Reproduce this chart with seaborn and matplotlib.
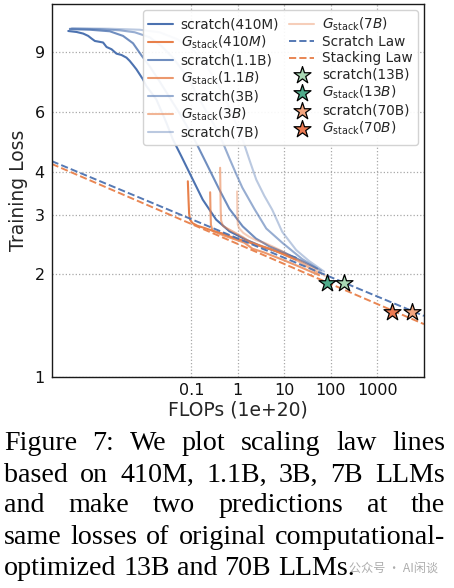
import numpy as np
import pandas as pd
import matplotlib
matplotlib.use("Agg")
import matplotlib.pyplot as plt
import seaborn as sns
from matplotlib.ticker import NullLocator, NullFormatter, FixedLocator, FixedFormatter

# ---------------- data (FLOPs in units of 1e20, training loss) ----------------
scratch_410M_flops = [2.27e-4, 3.43e-4, 4.75e-4, 6.08e-4, 7.19e-4, 8.46e-4, 1.08e-3, 1.27e-3, 1.51e-3,
                      1.93e-3, 2.46e-3, 3.15e-3, 4.04e-3, 4.75e-3, 5.59e-3, 6.61e-3, 7.78e-3, 9.15e-3,
                      1.08e-2, 1.77e-2, 2.90e-2, 4.02e-2, 6.08e-2, 9.15e-2, 0.176, 0.341, 0.658, 1.50,
                      3.40, 9.11, 17.6]
scratch_410M_loss = [10.41, 10.34, 10.23, 10.07, 9.89, 9.73, 9.67, 9.63, 9.34, 9.20, 8.93, 8.85, 8.69,
                     8.50, 8.27, 8.03, 7.76, 7.50, 7.17, 6.55, 5.60, 4.99, 4.46, 3.98, 3.32, 2.90, 2.68,
                     2.53, 2.41, 2.31, 2.24]

scratch_1_1B_flops = [2.46e-4, 6.61e-4, 1.77e-3, 3.41e-3, 5.59e-3, 8.46e-3, 1.27e-2, 2.08e-2, 3.41e-2,
                      5.59e-2, 8.29e-2, 0.117, 0.208, 0.402, 0.658, 1.27, 2.45, 4.73, 9.90, 20.7, 50.4]
scratch_1_1B_loss = [10.54, 10.50, 10.39, 10.07, 9.58, 8.83, 8.20, 7.40, 6.64, 5.96, 5.42, 4.99, 4.26,
                     3.55, 3.12, 2.77, 2.55, 2.42, 2.32, 2.21, 2.08]

scratch_3B_flops = [2.46e-4, 1.08e-3, 2.90e-3, 6.08e-3, 1.27e-2, 2.30e-2, 3.96e-2, 6.48e-2, 0.101, 0.150,
                    0.222, 0.330, 0.466, 0.674, 0.929, 1.25, 2.26, 4.08, 8.97, 24.1, 61.4]
scratch_3B_loss = [10.57, 10.54, 10.46, 10.32, 9.98, 9.39, 8.71, 7.97, 7.25, 6.55, 5.96, 5.42, 4.92,
                   4.36, 3.94, 3.60, 3.12, 2.73, 2.48, 2.22, 2.05]

scratch_7B_flops = [2.72e-4, 1.77e-3, 7.78e-3, 2.08e-2, 5.06e-2, 0.117, 0.222, 0.364, 0.567, 0.841,
                    1.31, 1.76, 2.49, 3.69, 5.48, 8.97, 17.9, 34.0, 71.2]
scratch_7B_loss = [10.61, 10.57, 10.50, 10.32, 9.84, 9.08, 8.14, 7.30, 6.46, 5.72, 4.92, 4.36, 3.80,
                   3.41, 3.10, 2.67, 2.36, 2.19, 2.04]

gstack_410M_flops = [8.42e-2, 8.71e-2, 8.97e-2, 9.38e-2, 0.106, 0.136, 0.192, 0.284, 0.466, 0.762, 1.38,
                     2.89, 5.22, 8.97, 17.6]
gstack_410M_loss = [3.76, 3.32, 3.02, 2.90, 2.83, 2.78, 2.74, 2.69, 2.64, 2.57, 2.51, 2.43, 2.37, 2.30, 2.21]

gstack_1_1B_flops = [0.254, 0.258, 0.264, 0.284, 0.364, 0.514, 0.774, 1.38, 2.07, 3.69, 9.11, 20.7, 55.6]
gstack_1_1B_loss = [3.49, 3.10, 2.80, 2.69, 2.65, 2.60, 2.55, 2.48, 2.38, 2.32, 2.21, 2.11, 1.99]

gstack_3B_flops = [0.416, 0.422, 0.428, 0.437, 0.477, 0.567, 0.726, 0.929, 1.31, 1.76, 2.62, 4.08, 6.35,
                   9.11, 17.6, 28.9, 55.6]
gstack_3B_loss = [4.12, 3.55, 3.10, 2.88, 2.78, 2.74, 2.69, 2.64, 2.57, 2.50, 2.45, 2.40, 2.35, 2.30,
                  2.21, 2.12, 2.01]

gstack_7B_flops = [0.961, 0.971, 0.980, 1.0, 1.077, 1.31, 1.76, 2.49, 3.69, 5.48, 8.54, 14.0, 25.3, 43.5, 74.8]
gstack_7B_loss = [3.51, 3.21, 2.94, 2.80, 2.73, 2.65, 2.58, 2.52, 2.48, 2.42, 2.35, 2.25, 2.17, 2.08, 1.98]

law_flops = [1e-4, 1e4]
scratch_law_loss = [4.31, 1.51]
stacking_law_loss = [4.23, 1.428]

star_labels = ["scratch(13B)", r"$G_{\mathrm{stack}}(13B)$", "scratch(70B)", r"$G_{\mathrm{stack}}(70B)$"]
star_flops = [190.5, 83.8, 5530, 2065]
star_loss = [1.887, 1.887, 1.555, 1.555]
star_colors = ["#a9d8b4", "#4fab8b", "#f2a57f", "#ec7a52"]

x_ticks = [0.1, 1, 10, 100, 1000]
x_ticklabels = ["0.1", "1", "10", "100", "1000"]
y_ticks = [1, 2, 3, 4, 6, 9]
y_ticklabels = ["1", "2", "3", "4", "6", "9"]

caption_lines = [
    "Figure 7:  We plot scaling law lines",
    "based on 410M, 1.1B, 3B, 7B LLMs",
    "and make two predictions at the",
    "same losses of original computational-",
    "optimized 13B and 70B LLMs.",
]

# ---------------- style ----------------
sns.set_style("whitegrid", {"grid.linestyle": ":", "grid.color": "#a8a8a8",
                            "axes.edgecolor": "#1a1a1a", "axes.linewidth": 1.0})
plt.rcParams["font.family"] = ["DejaVu Sans"]
plt.rcParams["mathtext.fontset"] = "dejavusans"

W, H = 454, 588
fig = plt.figure(figsize=(W / 100, H / 100), dpi=100)
ax = fig.add_axes([51.7 / W, 1 - 376.7 / H, (424 - 51.7) / W, (376.7 - 4) / H])
ax.set_xscale("log")
ax.set_yscale("log")

blue = "#4c72b0"
orange = "#e8804a"
alphas = [1.0, 0.8, 0.58, 0.38]

series = [
    (scratch_410M_flops, scratch_410M_loss, blue, alphas[0], "scratch(410M)"),
    (gstack_410M_flops, gstack_410M_loss, orange, alphas[0], r"$G_{\mathrm{stack}}(410M)$"),
    (scratch_1_1B_flops, scratch_1_1B_loss, blue, alphas[1], "scratch(1.1B)"),
    (gstack_1_1B_flops, gstack_1_1B_loss, orange, alphas[1], r"$G_{\mathrm{stack}}(1.1B)$"),
    (scratch_3B_flops, scratch_3B_loss, blue, alphas[2], "scratch(3B)"),
    (gstack_3B_flops, gstack_3B_loss, orange, alphas[2], r"$G_{\mathrm{stack}}(3B)$"),
    (scratch_7B_flops, scratch_7B_loss, blue, alphas[3], "scratch(7B)"),
    (gstack_7B_flops, gstack_7B_loss, orange, alphas[3], r"$G_{\mathrm{stack}}(7B)$"),
]
for xs, ys, c, a, lab in series:
    sns.lineplot(x=xs, y=ys, ax=ax, color=c, alpha=a, lw=1.5, label=lab,
                 sort=False, estimator=None)

sns.lineplot(x=law_flops, y=scratch_law_loss, ax=ax, color=blue, alpha=0.95, lw=1.4,
             linestyle="--", label="Scratch Law", sort=False, estimator=None)
sns.lineplot(x=law_flops, y=stacking_law_loss, ax=ax, color=orange, alpha=0.95, lw=1.4,
             linestyle="--", label="Stacking Law", sort=False, estimator=None)

for xs, ys, c, lab in zip(star_flops, star_loss, star_colors, star_labels):
    sns.scatterplot(x=[xs], y=[ys], ax=ax, marker="*", s=165, color=c,
                    edgecolor="black", linewidth=0.9, label=lab, zorder=5)

ax.set_xlim(1e-4, 1e4)
ax.set_ylim(1, 12.5)
ax.xaxis.set_major_locator(FixedLocator(x_ticks))
ax.xaxis.set_major_formatter(FixedFormatter(x_ticklabels))
ax.yaxis.set_major_locator(FixedLocator(y_ticks))
ax.yaxis.set_major_formatter(FixedFormatter(y_ticklabels))
for axis in (ax.xaxis, ax.yaxis):
    axis.set_minor_locator(NullLocator())
    axis.set_minor_formatter(NullFormatter())
ax.tick_params(axis="both", length=0, labelsize=11.5, colors="#111111")
ax.tick_params(axis="x", pad=4.5)
ax.tick_params(axis="y", pad=5)
ax.grid(True, which="major", linestyle=":", color="#a8a8a8", linewidth=0.9)
for sp in ax.spines.values():
    sp.set_color("#1a1a1a")
    sp.set_linewidth(1.0)

ax.set_xlabel("FLOPs (1e+20)", fontsize=13.5, labelpad=2)
ax.set_ylabel("Training Loss", fontsize=13.5, labelpad=5)

handles, labels = ax.get_legend_handles_labels()
leg = ax.legend(handles, labels, loc="upper right", ncol=2, fontsize=9.8,
                labelspacing=0.17, handlelength=1.8, handletextpad=0.6,
                columnspacing=0.75, borderpad=0.38, borderaxespad=0.45,
                frameon=True, framealpha=0.92, edgecolor="#d0d0d0", fancybox=True)

# ---------------- caption (justified, serif) ----------------
fig.canvas.draw()
renderer = fig.canvas.get_renderer()
cap_fs = 20.2
x0, x1 = 4, 445
baselines = [450, 481.5, 512.5, 543.5, 575]
for i, (line, yb) in enumerate(zip(caption_lines, baselines)):
    words = line.split()
    txts = [fig.text(0, 1 - yb / H, w, fontsize=cap_fs, family="Liberation Serif",
                     va="baseline", ha="left", color="black") for w in words]
    widths = [t.get_window_extent(renderer).width for t in txts]
    if i < len(caption_lines) - 1:
        gap = (x1 - x0 - sum(widths)) / (len(words) - 1)
    else:
        gap = 0.25 * cap_fs * 100 / 72
    x = x0
    for t, w in zip(txts, widths):
        t.set_x(x / W)
        x += w + gap

fig.text(438 / W, 1 - 572 / H, "公众号 · AI闲谈", fontsize=8.7, ha="right", va="baseline",
         family=["Noto Sans CJK SC", "DejaVu Sans"], color="#8a8a8a", alpha=0.7)

fig.savefig("out.png", dpi=100)
